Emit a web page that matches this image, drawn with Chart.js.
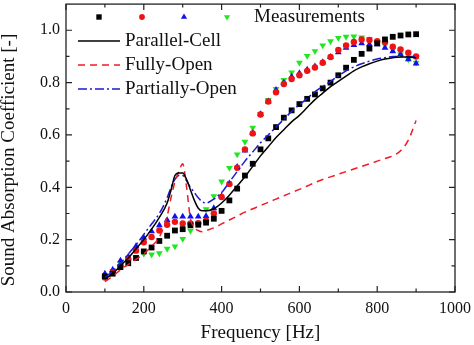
<!DOCTYPE html>
<html>
<head>
<meta charset="utf-8">
<script src="https://cdn.jsdelivr.net/npm/chart.js@4"></script>
<style>
  html, body { margin: 0; padding: 0; background: #fff; }
  #wrap { width: 474px; height: 345px; position: relative; }
</style>
</head>
<body>
<div id="wrap"><canvas id="absChart"></canvas></div>
<script>
// data
const freqMeas = [100, 120, 140, 160, 180, 200, 220, 240, 260, 280, 300, 320, 340, 360, 380, 400, 420, 440, 460, 480, 500,
  520, 540, 560, 580, 600, 620, 640, 660, 680, 700, 720, 740, 760, 780, 800, 820, 840, 860, 880, 900];
const measBlack = [0.06, 0.07, 0.095, 0.11, 0.13, 0.155, 0.17, 0.195, 0.215, 0.235, 0.24, 0.255, 0.257, 0.265, 0.28, 0.31, 0.35,
  0.395, 0.445, 0.49, 0.545, 0.587, 0.63, 0.666, 0.694, 0.718, 0.738, 0.755, 0.778, 0.80, 0.828, 0.857, 0.887, 0.91, 0.93, 0.95,
  0.965, 0.975, 0.98, 0.984, 0.985];
const measRed = [0.055, 0.075, 0.10, 0.125, 0.158, 0.19, 0.21, 0.235, 0.257, 0.268, 0.262, 0.262, 0.263, 0.272, 0.30, 0.363,
  0.413, 0.475, 0.545, 0.606, 0.678, 0.728, 0.763, 0.795, 0.814, 0.828, 0.845, 0.858, 0.876, 0.898, 0.925, 0.942, 0.955, 0.965,
  0.963, 0.958, 0.955, 0.937, 0.927, 0.914, 0.90];
const measBlue = [0.07, 0.085, 0.12, 0.135, 0.175, 0.207, 0.232, 0.255, 0.275, 0.288, 0.288, 0.288, 0.288, 0.29, 0.32, 0.366,
  0.415, 0.478, 0.54, 0.608, 0.68, 0.728, 0.772, 0.80, 0.823, 0.836, 0.85, 0.862, 0.878, 0.898, 0.916, 0.933, 0.944, 0.95,
  0.946, 0.946, 0.933, 0.92, 0.908, 0.889, 0.873];
const measGreen = [0.06, 0.08, 0.11, 0.12, 0.133, 0.146, 0.143, 0.148, 0.165, 0.174, 0.203, 0.234, 0.265, 0.316, 0.366, 0.422,
  0.474, 0.526, 0.574, 0.628, 0.68, 0.734, 0.776, 0.81, 0.839, 0.876, 0.902, 0.92, 0.942, 0.958, 0.971, 0.975, 0.976, 0.973,
  0.967, 0.955, 0.942, 0.927, 0.908, 0.889, 0.876];

const freqModel = [100, 120, 140, 160, 180, 200, 220, 240, 260, 270, 280, 290, 300, 310, 320, 330, 340, 350, 360, 380, 400,
  420, 440, 460, 480, 500, 520, 540, 560, 580, 600, 620, 640, 660, 680, 700, 720, 740, 760, 780, 800, 820, 840, 860, 880, 900];
const parallelCell = [0.05, 0.07, 0.10, 0.13, 0.165, 0.20, 0.24, 0.285, 0.34, 0.39, 0.445, 0.455, 0.455, 0.43, 0.39, 0.35,
  0.32, 0.31, 0.31, 0.318, 0.34, 0.37, 0.405, 0.44, 0.48, 0.52, 0.555, 0.59, 0.62, 0.65, 0.675, 0.705, 0.735, 0.76, 0.785,
  0.805, 0.825, 0.845, 0.86, 0.872, 0.882, 0.89, 0.895, 0.898, 0.898, 0.895];
const fullyOpen = [0.04, 0.06, 0.085, 0.105, 0.125, 0.145, 0.175, 0.21, 0.29, 0.36, 0.42, 0.46, 0.49, 0.40, 0.28, 0.245,
  0.235, 0.23, 0.235, 0.245, 0.26, 0.275, 0.29, 0.305, 0.318, 0.33, 0.343, 0.355, 0.368, 0.38, 0.392, 0.405, 0.418, 0.43,
  0.44, 0.45, 0.46, 0.47, 0.48, 0.49, 0.50, 0.51, 0.52, 0.54, 0.58, 0.655];
const partiallyOpen = [0.055, 0.08, 0.11, 0.145, 0.18, 0.22, 0.26, 0.30, 0.36, 0.40, 0.43, 0.445, 0.445, 0.425, 0.40, 0.38,
  0.36, 0.345, 0.34, 0.355, 0.38, 0.42, 0.46, 0.50, 0.535, 0.57, 0.60, 0.63, 0.66, 0.69, 0.715, 0.74, 0.765, 0.785, 0.805,
  0.825, 0.845, 0.86, 0.872, 0.882, 0.89, 0.895, 0.90, 0.90, 0.90, 0.90];

const xTicks = [0, 200, 400, 600, 800, 1000];
const yTicks = [0.0, 0.2, 0.4, 0.6, 0.8, 1.0];
const xMinor = [100, 300, 500, 700, 900];
const yMinor = [0.1, 0.3, 0.5, 0.7, 0.9];

const serif = "'Liberation Serif', 'Times New Roman', serif";
Chart.defaults.font.family = serif;

function pts(xs, ys) {
  return xs.map((x, i) => ({ x: x, y: ys[i] }));
}

// markers
const markers = [
  { data: measBlack, style: "rect", radius: 4.1, rot: 0, color: "#000000" },
  { data: measRed, style: "circle", radius: 3.2, rot: 0, color: "#ee1414" },
  { data: measBlue, style: "triangle", radius: 3.9, rot: 0, color: "#1010f0" },
  { data: measGreen, style: "triangle", radius: 3.9, rot: 180, color: "#22e622" },
];
// model curves
const curves = [
  { label: "Parallel-Cell", data: parallelCell, color: "#000000", dash: [] },
  { label: "Fully-Open", data: fullyOpen, color: "#ee1c24", dash: [7, 5] },
  { label: "Partially-Open", data: partiallyOpen, color: "#1a1ad0", dash: [9, 3, 2, 3] },
];

const datasets = [];
markers.forEach((m) => {
  datasets.push({
    type: "scatter",
    data: pts(freqMeas, m.data),
    pointStyle: m.style,
    pointRadius: m.radius,
    pointRotation: m.rot,
    backgroundColor: m.color,
    borderColor: m.color,
    borderWidth: 0,
    order: 1,
  });
});
curves.forEach((c) => {
  datasets.push({
    type: "line",
    label: c.label,
    data: pts(freqModel, c.data),
    borderColor: c.color,
    borderWidth: 1.5,
    borderDash: c.dash,
    pointRadius: 0,
    cubicInterpolationMode: "monotone",
    fill: false,
    order: 0,
  });
});

// frame, inward ticks, axis titles, legend
const decor = {
  id: "decor",
  afterDraw(chart) {
    const ctx = chart.ctx;
    const a = chart.chartArea;
    const xs = chart.scales.x, ys = chart.scales.y;
    ctx.save();
    ctx.strokeStyle = "#222";
    ctx.lineWidth = 1.3;
    ctx.strokeRect(a.left, a.top, a.right - a.left, a.bottom - a.top);
    ctx.lineWidth = 1.2;
    ctx.beginPath();
    xTicks.concat(xMinor).forEach((v) => {
      const len = xTicks.includes(v) ? 6 : 3.5;
      const px = xs.getPixelForValue(v);
      ctx.moveTo(px, a.bottom); ctx.lineTo(px, a.bottom - len);
      ctx.moveTo(px, a.top); ctx.lineTo(px, a.top + len);
    });
    yTicks.concat(yMinor).forEach((v) => {
      const len = yTicks.includes(v) ? 6 : 3.5;
      const py = ys.getPixelForValue(v);
      ctx.moveTo(a.left, py); ctx.lineTo(a.left + len, py);
      ctx.moveTo(a.right, py); ctx.lineTo(a.right - len, py);
    });
    ctx.stroke();

    // axis titles
    ctx.fillStyle = "#111";
    ctx.font = "19px " + serif;
    ctx.textAlign = "center";
    ctx.textBaseline = "middle";
    ctx.fillText("Frequency [Hz]", (a.left + a.right) / 2, 333);
    ctx.save();
    ctx.translate(9, 160);
    ctx.rotate(-Math.PI / 2);
    ctx.fillText("Sound Absorption Coefficient [-]", 0, 0);
    ctx.restore();

    // legend
    const mx = [99, 142, 184, 227];
    markers.forEach((m, i) => {
      ctx.fillStyle = m.color;
      ctx.strokeStyle = m.color;
      Chart.helpers.drawPoint(ctx, { pointStyle: m.style, radius: m.radius - 0.3, rotation: m.rot, borderWidth: 0 }, mx[i], 17);
    });
    ctx.fillStyle = "#111";
    ctx.textAlign = "left";
    ctx.fillText("Measurements", 254, 17);
    const rows = [41, 65, 89];
    curves.forEach((c, i) => {
      ctx.strokeStyle = c.color;
      ctx.lineWidth = 1.5;
      ctx.setLineDash(c.dash);
      ctx.beginPath();
      ctx.moveTo(78, rows[i]);
      ctx.lineTo(120, rows[i]);
      ctx.stroke();
      ctx.setLineDash([]);
      ctx.fillStyle = "#111";
      ctx.fillText(c.label, 125, rows[i]);
    });
    ctx.restore();
  },
};

new Chart(document.getElementById("absChart"), {
  data: { datasets: datasets },
  options: {
    responsive: true,
    maintainAspectRatio: false,
    animation: false,
    layout: { padding: { top: 0, right: 19, left: 0, bottom: 0 } },
    plugins: { legend: { display: false }, tooltip: { enabled: false } },
    scales: {
      x: {
        type: "linear",
        min: 0,
        max: 1000,
        grid: { display: false, drawTicks: false },
        border: { display: false },
        afterBuildTicks: (s) => { s.ticks = xTicks.map((v) => ({ value: v })); },
        afterFit: (s) => { s.height = 53; s.paddingLeft = 0; s.paddingRight = 0; },
        ticks: {
          padding: 7,
          color: "#111",
          font: { family: serif, size: 16 },
          maxRotation: 0,
          callback: (v) => String(v),
        },
      },
      y: {
        type: "linear",
        min: 0,
        max: 1.1,
        grid: { display: false, drawTicks: false },
        border: { display: false },
        afterBuildTicks: (s) => { s.ticks = yTicks.map((v) => ({ value: v })); },
        afterFit: (s) => { s.width = 66; s.paddingTop = 0; s.paddingBottom = 0; },
        ticks: {
          padding: 6,
          color: "#111",
          font: { family: serif, size: 16 },
          callback: (v) => Number(v).toFixed(1),
        },
      },
    },
  },
  plugins: [decor],
});
</script>
</body>
</html>
